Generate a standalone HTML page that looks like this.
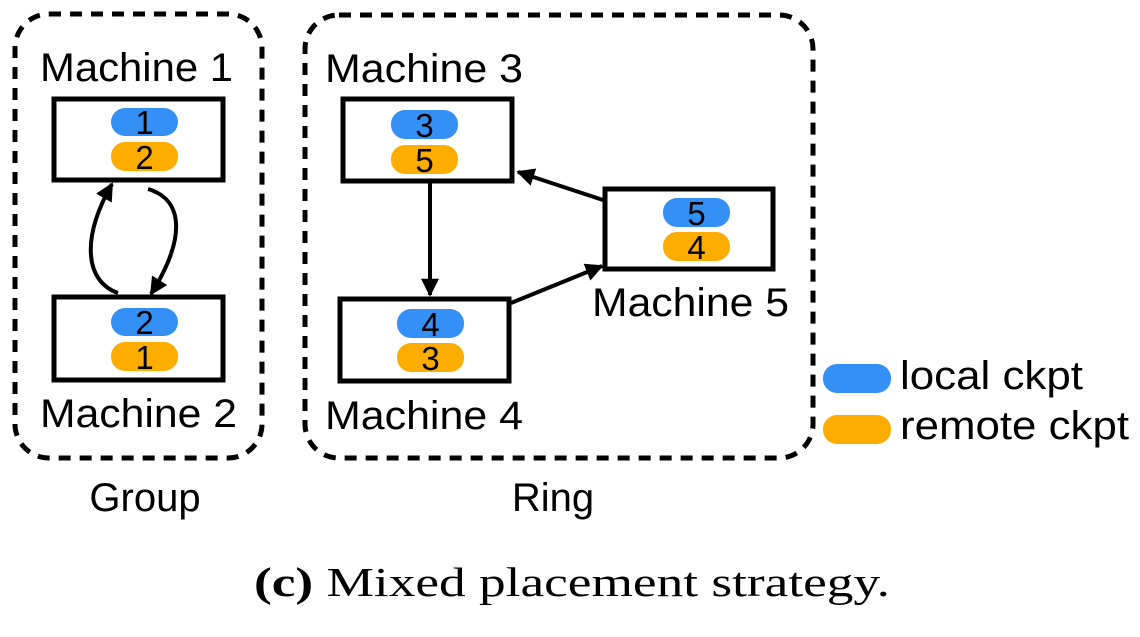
<!DOCTYPE html>
<html><head><style>
body{margin:0;background:#fff;width:1140px;height:632px;overflow:hidden}
</style></head><body>
<svg width="1140" height="632" viewBox="0 0 1140 632" xmlns="http://www.w3.org/2000/svg" font-family="Liberation Sans, Arial, sans-serif">
<defs>
<marker id="ar" viewBox="0 0 10 10" refX="9" refY="5" markerWidth="20" markerHeight="18" markerUnits="userSpaceOnUse" orient="auto"><path d="M0,0 L10,5 L0,10 z" fill="#000"/></marker></defs>
<g fill="none" stroke="#000" stroke-width="5" stroke-dasharray="12,9">
<rect x="15" y="14" width="247" height="444" rx="34"/>
<rect x="305" y="15" width="508" height="443" rx="34"/>
</g>
<g fill="#fff" stroke="#000" stroke-width="5">
<rect x="54" y="99" width="169" height="81"/>
<rect x="54" y="297" width="169" height="83"/>
<rect x="343" y="99" width="169" height="82"/>
<rect x="340" y="299" width="169" height="82"/>
<rect x="605" y="189" width="168" height="80"/>
</g>
<g>
<rect x="111" y="108" width="67" height="28" rx="14" fill="#3490f5"/>
<rect x="111" y="142" width="67" height="29" rx="14" fill="#fdac00"/>
<rect x="111" y="308" width="67" height="28" rx="14" fill="#3490f5"/>
<rect x="111" y="342" width="67" height="29" rx="14" fill="#fdac00"/>
<rect x="391" y="110" width="67" height="29" rx="14" fill="#3490f5"/>
<rect x="391" y="145" width="67" height="29" rx="14" fill="#fdac00"/>
<rect x="397" y="309" width="67" height="29" rx="14" fill="#3490f5"/>
<rect x="397" y="343" width="67" height="29" rx="14" fill="#fdac00"/>
<rect x="663" y="198" width="67" height="29" rx="14" fill="#3490f5"/>
<rect x="663" y="232" width="67" height="29" rx="14" fill="#fdac00"/>
<rect x="823" y="364" width="68" height="29" rx="14" fill="#3490f5"/>
<rect x="823" y="415" width="68" height="29" rx="14" fill="#fdac00"/>
</g>
<g font-size="33" text-anchor="middle" fill="#000">
<text x="144.5" y="134">1</text><text x="144.5" y="169">2</text>
<text x="144.5" y="334">2</text><text x="144.5" y="369">1</text>
<text x="424.5" y="137">3</text><text x="424.5" y="172">5</text>
<text x="430.5" y="336">4</text><text x="430.5" y="370">3</text>
<text x="696.5" y="225">5</text><text x="696.5" y="259">4</text>
</g>
<g font-size="40" fill="#000" lengthAdjust="spacingAndGlyphs">
<text x="40" y="81" textLength="193" lengthAdjust="spacingAndGlyphs">Machine 1</text>
<text x="40" y="427" textLength="197" lengthAdjust="spacingAndGlyphs">Machine 2</text>
<text x="325" y="82" textLength="198" lengthAdjust="spacingAndGlyphs">Machine 3</text>
<text x="325" y="429" textLength="198" lengthAdjust="spacingAndGlyphs">Machine 4</text>
<text x="592" y="316" textLength="197" lengthAdjust="spacingAndGlyphs">Machine 5</text>
<text x="900" y="389" textLength="183" lengthAdjust="spacingAndGlyphs">local ckpt</text>
<text x="900" y="439" textLength="229" lengthAdjust="spacingAndGlyphs">remote ckpt</text>
<text x="145" y="511" text-anchor="middle">Group</text>
<text x="553" y="511" text-anchor="middle">Ring</text>
</g>
<g fill="none" stroke="#000" stroke-width="4" marker-end="url(#ar)">
<path d="M118,293 C86,282 80,240 112,184"/>
<path d="M148,189 C185,200 185,240 151,294"/>
<path d="M430,182 L430,295"/>
<path d="M603,200 L518,172"/>
<path d="M511,303 L602,266"/>
</g>
<text x="572" y="596" text-anchor="middle" font-family="Liberation Serif, serif" font-size="41" fill="#000" textLength="636" lengthAdjust="spacingAndGlyphs"><tspan font-weight="bold">(c)</tspan> Mixed placement strategy.</text>
</svg>
</body></html>
